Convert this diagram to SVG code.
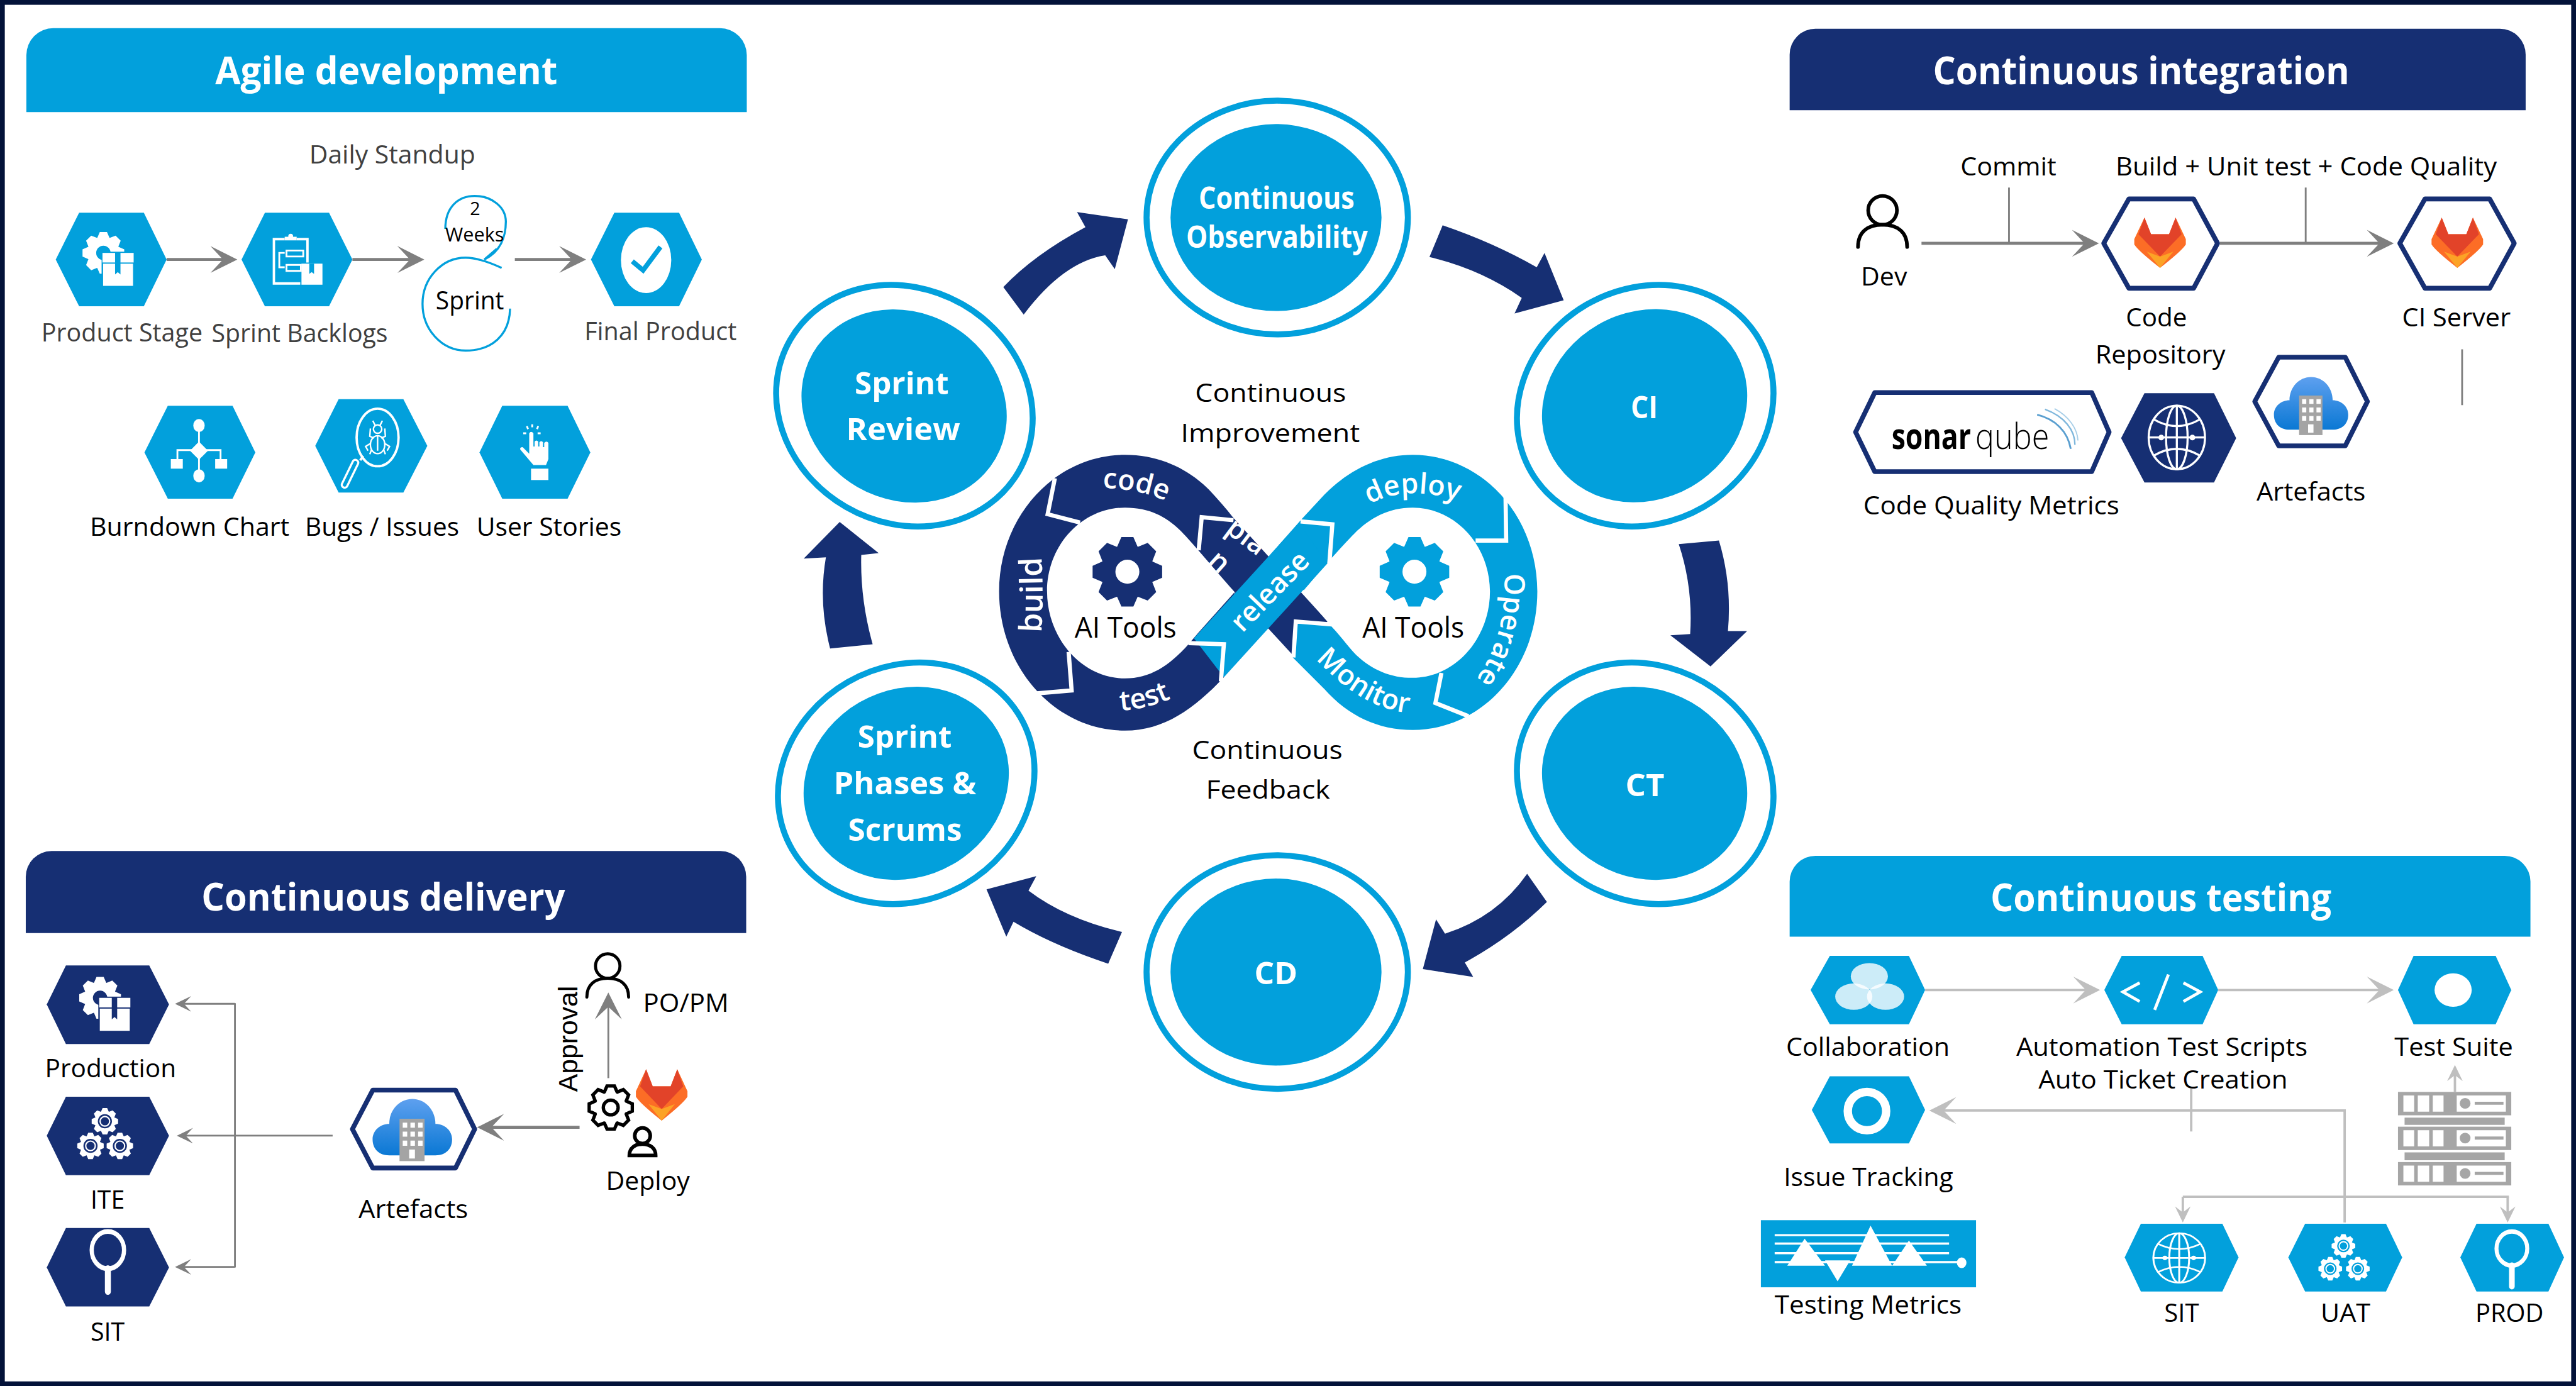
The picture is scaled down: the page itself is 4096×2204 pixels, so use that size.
<svg xmlns="http://www.w3.org/2000/svg" xmlns:xlink="http://www.w3.org/1999/xlink" width="4096" height="2204" viewBox="0 0 4096 2204">
<style>
text{font-family:"Open Sans","Noto Sans","Liberation Sans",sans-serif;font-size:43px;fill:#000}
.g{fill:#404040}
.h{font-size:63px;font-weight:700;fill:#fff}
.n{font-size:50px;font-weight:700;fill:#fff}
.inf{font-size:47px;font-weight:600;fill:#fff}
.ai{font-size:48px}
.b{fill:#02a0dc}.d{fill:#162f73}
.ho{fill:#fff;stroke:#162f73;stroke-width:8;stroke-linejoin:round}
.ring{fill:none;stroke:#02a0dc;stroke-width:10}
.w{fill:#fff}
.ws{fill:none;stroke:#fff;stroke-width:4}
.chev{fill:none;stroke:#fff;stroke-width:7}
.l1{fill:none;stroke:#7f7f7f;stroke-width:5}
.l2{fill:none;stroke:#7f7f7f;stroke-width:3}
.l3{fill:none;stroke:#bfbfbf;stroke-width:4}
.k{fill:none;stroke:#000;stroke-width:6;stroke-linecap:round}
</style>
<defs>
<linearGradient id="cg" x1="0" y1="0" x2="0" y2="1"><stop offset="0" stop-color="#5ea0ef"/><stop offset="1" stop-color="#0a78d4"/></linearGradient>
<marker id="ah" markerUnits="userSpaceOnUse" markerWidth="46" markerHeight="46" refX="25" refY="22.5" orient="auto"><path d="M0,0L45,22.5L0,45L21,22.5Z" fill="#7f7f7f"/></marker>
<marker id="am" markerUnits="userSpaceOnUse" markerWidth="30" markerHeight="30" refX="16" refY="13" orient="auto"><path d="M0,0L27,13L0,26L12,13Z" fill="#7f7f7f"/></marker>
<marker id="al" markerUnits="userSpaceOnUse" markerWidth="46" markerHeight="46" refX="25" refY="22.5" orient="auto"><path d="M0,0L45,22.5L0,45L21,22.5Z" fill="#bfbfbf"/></marker>
<marker id="as" markerUnits="userSpaceOnUse" markerWidth="30" markerHeight="30" refX="16" refY="13" orient="auto"><path d="M0,0L27,13L0,26L10,13Z" fill="#bfbfbf"/></marker>
<path id="gear" fill-rule="evenodd" d="M-10-58L10-58L17-42L17.7-41.7L33.9-48.1L48.1-33.9L41.7-17.7L42-17L58-10L58 10L42 17L41.7 17.7L48.1 33.9L33.9 48.1L17.7 41.7L17 42L10 58L-10 58L-17 42L-17.7 41.7L-33.9 48.1L-48.1 33.9L-41.7 17.7L-42 17L-58 10L-58-10L-42-17L-41.7-17.7L-48.1-33.9L-33.9-48.1L-17.7-41.7L-17-42ZM20 0A20 20 0 1 0-20 0A20 20 0 1 0 20 0Z"/>
<g id="gearr"><path fill="#fff" fill-rule="evenodd" d="M-10-58L10-58L17-42L17.7-41.7L33.9-48.1L48.1-33.9L41.7-17.7L42-17L58-10L58 10L42 17L41.7 17.7L48.1 33.9L33.9 48.1L17.7 41.7L17 42L10 58L-10 58L-17 42L-17.7 41.7L-33.9 48.1L-48.1 33.9L-41.7 17.7L-42 17L-58 10L-58-10L-42-17L-41.7-17.7L-48.1-33.9L-33.9-48.1L-17.7-41.7L-17-42ZM31 0A31 31 0 1 0-31 0A31 31 0 1 0 31 0Z"/><circle r="21" fill="none" stroke="#fff" stroke-width="6"/></g>
<g id="gearbox">
<use href="#gear" transform="translate(-13,-11) scale(.6)" fill="#fff"/>
<rect x="-16" y="-13" width="56" height="59" style="fill:currentColor"/>
<rect x="-14.5" y="-11" width="52" height="16" fill="#fff"/>
<rect x="-13.5" y="7" width="50" height="37" fill="#fff"/>
<path d="M6.5-12H15.5V25L11 21L6.5 25Z" style="fill:currentColor"/>
</g>
<g id="fox"><path d="M-26-42L-15-14H15L26-42L43-6V3Q36 14 0 42Q-36 14-43 3V-6Z" fill="#fc6d26"/><path d="M-26-42L-15-14H15L26-42L36-14L0 23L-36-14Z" fill="#e24329"/><path d="M0 23L22 15L0 42L-22 15Z" fill="#fca326"/></g>
<g id="cloud"><path d="M-36,40C-52,40-62,30-62,15C-62,1-50-9-36-9C-36-31-20-48 0-48C20-48 36-31 36-9C50-9 62 1 62 15C62 30 52 40 36 40Z" fill="url(#cg)"/><rect x="-20" y="-17" width="39" height="66" fill="#a4a4a4"/><path d="M-15-11h7v8h-7zM-3-11h7v8h-7zM9-11h7v8h-7zM-15 3h7v8h-7zM-3 3h7v8h-7zM9 3h7v8h-7zM-15 17h7v8h-7zM-3 17h7v8h-7zM9 17h7v8h-7zM-5 31h9v14h-9z" fill="#fff"/></g>
<g id="globe" fill="none" stroke="#fff" stroke-width="3.5"><ellipse rx="47" ry="53"/><ellipse rx="18" ry="53"/><path d="M0-53V53M-47 0H47M-38-30Q0-8 38-30M-38 30Q0 8 38 30"/><circle cx="-26" r="3" fill="#fff"/><circle cx="26" r="3" fill="#fff"/></g>
<g id="lens"><circle cy="-14" r="27" fill="none" stroke="#fff" stroke-width="7"/><path d="M0 13V46" stroke="#fff" stroke-width="10" stroke-linecap="round"/></g>
<g id="user" class="k"><circle r="24" fill="none"/><path d="M-41 61C-41 36-25 24 0 24C25 24 41 36 41 61" fill="none"/></g>
<g id="srv"><rect width="189" height="39" fill="#a6a6a6"/><path d="M9 6h18v27H9zM33 6h19v27H33zM58 6h18v27H58zM98 6h82v27H98z" fill="#fff"/><circle cx="112" cy="19" r="9" fill="#a6a6a6"/><path d="M128 19h48" stroke="#a6a6a6" stroke-width="5"/></g>
</defs>
<g transform="scale(.953)">
<rect x="4" y="4" width="4290" height="2305" fill="#fff" stroke="#031239" stroke-width="8"/>

<g id="panel-agile">
<path class="b" d="M44,187V92A45,45 0 0 1 89,47H1201A45,45 0 0 1 1246,92V187Z"/>
<text class="h" x="359" y="141" textLength="571" lengthAdjust="spacingAndGlyphs">Agile development</text>
<text class="g" x="516" y="273" textLength="277" lengthAdjust="spacingAndGlyphs">Daily Standup</text>
</g>
<g id="product-stage" color="#02a0dc">
<polygon class="b" points="93,433 132,355 240,355 278,433 240,511 132,511"/>
<use href="#gearbox" x="185.5" y="433"/>
<text class="g" x="69" y="570" textLength="269" lengthAdjust="spacingAndGlyphs">Product Stage</text>
</g>
<g id="sprint-backlogs">
<polygon class="b" points="403,433 442,355 549,355 588,433 549,511 442,511"/>
<path class="ws" d="M475,399H457V473H501M495,399H513V438"/>
<path class="w" d="M475,395h20v6h-20zM503,440h35v35h-35z"/><circle class="w" cx="485" cy="394" r="4"/>
<path class="b" d="M516,440h8v17l-4,-3l-4,3z"/>
<path class="ws" style="stroke-width:3" d="M478,418h28v10h-28zM478,442h24v10h-24zM475,422h-9v24h9"/>
<text class="g" x="353" y="571" textLength="294" lengthAdjust="spacingAndGlyphs">Sprint Backlogs</text>
</g>
<g id="sprint-loop">
<path fill="none" stroke="#02a0dc" stroke-width="3.5" d="M851,515C850,560 820,585 777,585C737,585 705,550 705,507C705,465 737,430 777,430C795,430 815,437 837,447"/>
<path fill="none" stroke="#02a0dc" stroke-width="3.5" d="M808,433C835,420 844,395 844,370C844,345 820,327 792,327C765,327 743,345 743,382M808,433L829,415"/>
<text x="727" y="516" textLength="114" lengthAdjust="spacingAndGlyphs">Sprint</text>
<text x="784" y="359" style="font-size:30px">2</text>
<text x="743" y="403" textLength="98" lengthAdjust="spacingAndGlyphs" style="font-size:32px">Weeks</text>
</g>
<g id="final-product">
<polygon class="b" points="986,433 1025,355 1133,355 1171,433 1133,511 1025,511"/>
<ellipse class="w" cx="1078" cy="434" rx="42" ry="55"/>
<path fill="none" stroke="#02a0dc" stroke-width="8" d="M1055,436L1073,451L1102,412"/>
<text class="g" x="975" y="568" textLength="254" lengthAdjust="spacingAndGlyphs">Final Product</text>
</g>
<g id="burndown-chart">
<polygon class="b" points="241,755 280,677 388,677 426,755 388,832 280,832"/>
<ellipse class="w" cx="332" cy="710" rx="9.5" ry="11"/><ellipse class="w" cx="332" cy="794" rx="9.5" ry="11"/>
<path class="w" d="M332,737L347,752L332,767L317,752Z"/>
<path class="ws" style="stroke-width:3" d="M332,710V794M296,767V751H368V767"/>
<rect class="w" x="285" y="766" width="20" height="16"/><rect class="w" x="359" y="766" width="20" height="16"/>
<text x="150" y="894" textLength="333" lengthAdjust="spacingAndGlyphs">Burndown Chart</text>
</g>
<g id="bugs-issues">
<polygon class="b" points="526,744 565,666 673,666 713,744 673,822 565,822"/>
<ellipse class="ws" cx="630" cy="730" rx="35" ry="48"/>
<path d="M593,772L575,809" stroke="#fff" stroke-width="13" stroke-linecap="round"/><path d="M593,772L575,809" stroke="#02a0dc" stroke-width="6" stroke-linecap="round"/>
<path class="ws" d="M601,768L606,761"/>
<path class="ws" style="stroke-width:2.5" d="M630,728V752M622,702L626,710M638,702L634,710M618,715L617,728L624,731M642,715L643,728L636,731M618,740L610,745L614,752M642,740L650,745L646,752M620,750L617,758M640,750L643,758"/>
<circle class="ws" style="stroke-width:2.5" cx="630" cy="716" r="7"/><ellipse class="ws" style="stroke-width:2.5" cx="630" cy="742" rx="12" ry="15"/>
<text x="509" y="894" textLength="257" lengthAdjust="spacingAndGlyphs">Bugs / Issues</text>
</g>
<g id="user-stories">
<polygon class="b" points="800,755 838,677 947,677 985,755 947,832 838,832"/>
<path class="w" d="M883,723Q886,718 890,723V745H892V737Q895,733 898,737V745H900V738Q903,734 906,738V746H908V739Q912,735 915,739V766L911,776H890L868,750Q867,746 872,746L883,757Z"/>
<rect class="w" x="886" y="782" width="29" height="19"/>
<path d="M873,723h5M879,711l2,5M888,708v5M898,711l-2,5M897,723h5" stroke="#fff" stroke-width="3"/>
<text x="795" y="894" textLength="242" lengthAdjust="spacingAndGlyphs">User Stories</text>
</g>

<g id="panel-ci">
<path class="d" d="M2986,184V91A43,43 0 0 1 3029,48H4171A43,43 0 0 1 4214,91V184Z"/>
<text class="h" x="3225" y="141" textLength="695" lengthAdjust="spacingAndGlyphs">Continuous integration</text>
<text x="3271" y="293" textLength="160" lengthAdjust="spacingAndGlyphs">Commit</text>
<text x="3530" y="293" textLength="636" lengthAdjust="spacingAndGlyphs">Build + Unit test + Code Quality</text>
</g>
<g id="dev"><use href="#user" x="3141" y="351"/><text x="3105" y="476" textLength="77" lengthAdjust="spacingAndGlyphs">Dev</text></g>
<g id="code-repository">
<polygon class="ho" points="3510,406 3552,332 3660,332 3700,406 3660,481 3552,481"/>
<use href="#fox" x="3604" y="405"/>
<text x="3547" y="545" textLength="102" lengthAdjust="spacingAndGlyphs">Code</text>
<text x="3496" y="607" textLength="217" lengthAdjust="spacingAndGlyphs">Repository</text>
</g>
<g id="ci-server">
<polygon class="ho" points="4004,406 4046,332 4154,332 4195,406 4154,481 4046,481"/>
<use href="#fox" x="4100" y="405"/>
<text x="4008" y="545" textLength="181" lengthAdjust="spacingAndGlyphs">CI Server</text>
</g>
<g id="sonarqube">
<polygon class="ho" points="3096,721 3128,655 3490,655 3519,721 3490,787 3128,787"/>
<text transform="translate(3156,749) scale(.78,1)" style="font-size:60px;font-weight:700">sonar</text>
<text transform="translate(3296,749) scale(.88,1)" style="font-size:60px;font-weight:300">qube</text>
<path d="M3399,692C3430,700 3450,720 3455,749" fill="none" stroke="#5a9fd0" stroke-width="3"/>
<path d="M3412,683C3445,695 3462,718 3462,742" fill="none" stroke="#7fb7dc" stroke-width="2.5"/>
<path d="M3428,682C3452,695 3466,715 3467,735" fill="none" stroke="#a9cfe8" stroke-width="2"/>
<text x="3109" y="858" textLength="427" lengthAdjust="spacingAndGlyphs">Code Quality Metrics</text>
</g>
<g id="ci-globe">
<polygon class="d" points="3539,731 3578,656 3694,656 3731,731 3694,805 3578,805"/>
<use href="#globe" x="3632" y="730"/>
</g>
<g id="ci-artefacts">
<polygon class="ho" points="3762,670 3802,596 3913,596 3950,670 3913,744 3802,744"/>
<use href="#cloud" x="3856" y="677"/>
<text x="3765" y="835" textLength="182" lengthAdjust="spacingAndGlyphs">Artefacts</text>
</g>

<g id="panel-cd">
<path class="d" d="M43,1557V1463A43,43 0 0 1 86,1420H1202A43,43 0 0 1 1245,1463V1557Z"/>
<text class="h" x="336" y="1519" textLength="607" lengthAdjust="spacingAndGlyphs">Continuous delivery</text>
</g>
<g id="production" color="#162f73">
<polygon class="d" points="78,1676 110,1611 249,1611 282,1676 249,1742 110,1742"/>
<use href="#gearbox" x="180" y="1676"/>
<text x="75" y="1798" textLength="219" lengthAdjust="spacingAndGlyphs">Production</text>
</g>
<g id="ite">
<polygon class="d" points="78,1895 110,1830 249,1830 282,1895 249,1961 110,1961"/>
<use href="#gearr" transform="translate(175,1871) scale(.38)"/>
<use href="#gearr" transform="translate(151,1912) scale(.38)"/>
<use href="#gearr" transform="translate(200,1912) scale(.38)"/>
<text x="151" y="2017" textLength="57" lengthAdjust="spacingAndGlyphs">ITE</text>
</g>
<g id="cd-sit">
<polygon class="d" points="78,2115 110,2049 249,2049 282,2115 249,2180 110,2180"/>
<use href="#lens" transform="translate(180,2102) scale(1,1.15)"/>
<text x="151" y="2237" textLength="57" lengthAdjust="spacingAndGlyphs">SIT</text>
</g>
<g id="cd-artefacts">
<polygon class="ho" points="588,1884 622,1819 760,1819 792,1884 760,1949 622,1949"/>
<use href="#cloud" transform="translate(688,1885) scale(1.07)"/>
<text x="598" y="2033" textLength="183" lengthAdjust="spacingAndGlyphs">Artefacts</text>
</g>
<g id="deploy">
<use href="#gear" transform="translate(1019,1848) scale(.62)" fill="none" stroke="#000" stroke-width="9"/>
<use href="#fox" transform="translate(1104,1827) scale(1,1.02)"/>
<circle cx="1072" cy="1895" r="13" fill="#fff" stroke="#000" stroke-width="6"/>
<path d="M1050,1928C1050,1915 1060,1909 1072,1909C1084,1909 1094,1915 1094,1928Z" fill="#fff" stroke="#000" stroke-width="6"/>
<text x="1011" y="1985" textLength="140" lengthAdjust="spacingAndGlyphs">Deploy</text>
</g>
<g id="po-pm">
<use href="#user" transform="translate(1014,1612) scale(.85)"/>
<text x="1073" y="1688" textLength="143" lengthAdjust="spacingAndGlyphs">PO/PM</text>
<text transform="translate(963,1822) rotate(-90)" style="font-family:'Liberation Sans',Arial,sans-serif;font-size:44px" textLength="177" lengthAdjust="spacingAndGlyphs">Approval</text>
</g>

<g id="panel-ct">
<path class="b" d="M2986,1563V1471A43,43 0 0 1 3029,1428H4179A43,43 0 0 1 4222,1471V1563Z"/>
<text class="h" x="3321" y="1520" textLength="569" lengthAdjust="spacingAndGlyphs">Continuous testing</text>
</g>
<g id="collaboration">
<polygon class="b" points="3021,1652 3053,1595 3185,1595 3212,1652 3185,1709 3053,1709"/>
<ellipse cx="3119" cy="1629" rx="31" ry="22" fill="#fff" fill-opacity=".8"/><ellipse cx="3093" cy="1663" rx="31" ry="22" fill="#fff" fill-opacity=".8"/><ellipse cx="3146" cy="1663" rx="31" ry="22" fill="#fff" fill-opacity=".8"/>
<text x="2980" y="1762" textLength="273" lengthAdjust="spacingAndGlyphs">Collaboration</text>
</g>
<g id="automation">
<polygon class="b" points="3511,1652 3540,1595 3675,1595 3701,1652 3675,1709 3540,1709"/>
<path class="ws" style="stroke-width:5" d="M3570,1640L3542,1655L3570,1671M3618,1626L3595,1685M3643,1640L3671,1655L3643,1671"/>
<text x="3364" y="1762" textLength="486" lengthAdjust="spacingAndGlyphs">Automation Test Scripts</text>
<text x="3401" y="1816" textLength="416" lengthAdjust="spacingAndGlyphs">Auto Ticket Creation</text>
</g>
<g id="test-suite">
<polygon class="b" points="4001,1652 4027,1595 4164,1595 4190,1652 4164,1709 4027,1709"/>
<ellipse class="w" cx="4093" cy="1652" rx="31" ry="28"/>
<text x="3995" y="1762" textLength="198" lengthAdjust="spacingAndGlyphs">Test Suite</text>
</g>
<g id="issue-tracking">
<polygon class="b" points="3023,1852 3053,1796 3185,1796 3212,1852 3185,1908 3053,1908"/>
<circle class="ws" style="stroke-width:14" cx="3115" cy="1854" r="32"/>
<text x="2976" y="1979" textLength="283" lengthAdjust="spacingAndGlyphs">Issue Tracking</text>
</g>
<g id="testing-metrics">
<rect class="b" x="2938" y="2036" width="359" height="112"/>
<path d="M2961,2061H3252M2961,2075H3252M2961,2091H3252M2961,2106H3273" stroke="#fff" stroke-width="3.5"/>
<path class="w" d="M2982,2112L3011,2067L3045,2112ZM3090,2112L3121,2045L3157,2112ZM3157,2112L3185,2070L3215,2112ZM3045,2103H3087L3066,2138Z"/>
<ellipse class="w" cx="3273" cy="2107" rx="8" ry="9"/>
<text x="2961" y="2192" textLength="312" lengthAdjust="spacingAndGlyphs">Testing Metrics</text>
</g>
<g id="server"><use href="#srv" x="4001" y="1822"/><use href="#srv" x="4001" y="1880"/><use href="#srv" x="4001" y="1939"/><path d="M4012,1865h167v12h-167zM4012,1923h167v13h-167z" fill="#a6a6a6"/></g>
<g id="ct-sit">
<polygon class="b" points="3545,2098 3572,2042 3708,2042 3735,2098 3708,2155 3572,2155"/>
<use href="#globe" transform="translate(3636,2099) scale(.92,.78)"/>
<text x="3611" y="2206" textLength="58" lengthAdjust="spacingAndGlyphs">SIT</text>
</g>
<g id="uat">
<polygon class="b" points="3818,2098 3846,2042 3981,2042 4008,2098 3981,2155 3846,2155"/>
<use href="#gearr" transform="translate(3910,2079) scale(.34)"/>
<use href="#gearr" transform="translate(3888,2117) scale(.34)"/>
<use href="#gearr" transform="translate(3934,2117) scale(.34)"/>
<text x="3872" y="2206" textLength="83" lengthAdjust="spacingAndGlyphs">UAT</text>
</g>
<g id="prod">
<polygon class="b" points="4105,2098 4132,2042 4252,2042 4278,2098 4252,2155 4132,2155"/>
<use href="#lens" transform="translate(4191,2098) scale(.95,1.05)"/>
<text x="4130" y="2206" textLength="114" lengthAdjust="spacingAndGlyphs">PROD</text>
</g>

<g id="obs">
<ellipse class="ring" cx="2131" cy="363" rx="218" ry="195"/><ellipse class="b" cx="2129" cy="363" rx="176" ry="156"/>
<text class="n" x="2000" y="348" textLength="260" lengthAdjust="spacingAndGlyphs">Continuous</text>
<text class="n" x="1979" y="413" textLength="303" lengthAdjust="spacingAndGlyphs">Observability</text>
</g>
<g id="ci">
<ellipse class="ring" cx="2745" cy="677" rx="220" ry="195" transform="rotate(-30 2745 677)"/><ellipse class="b" cx="2744" cy="677" rx="176" ry="156" transform="rotate(-30 2744 677)"/>
<text class="n" x="2721" y="698" textLength="45" lengthAdjust="spacingAndGlyphs">CI</text>
</g>
<g id="ct">
<ellipse class="ring" cx="2745" cy="1307" rx="220" ry="195" transform="rotate(30 2745 1307)"/><ellipse class="b" cx="2744" cy="1307" rx="176" ry="156" transform="rotate(30 2744 1307)"/>
<text class="n" x="2712" y="1328" textLength="65" lengthAdjust="spacingAndGlyphs">CT</text>
</g>
<g id="cd">
<ellipse class="ring" cx="2131" cy="1622" rx="218" ry="195"/><ellipse class="b" cx="2129" cy="1622" rx="176" ry="156"/>
<text class="n" x="2093" y="1642" textLength="72" lengthAdjust="spacingAndGlyphs">CD</text>
</g>
<g id="sprint-phases">
<ellipse class="ring" cx="1512" cy="1307" rx="220" ry="195" transform="rotate(-30 1512 1307)"/><ellipse class="b" cx="1512" cy="1307" rx="176" ry="156" transform="rotate(-30 1512 1307)"/>
<text class="n" x="1431" y="1248" textLength="157" lengthAdjust="spacingAndGlyphs">Sprint</text>
<text class="n" x="1391" y="1325" textLength="238" lengthAdjust="spacingAndGlyphs">Phases &amp;</text>
<text class="n" x="1415" y="1403" textLength="190" lengthAdjust="spacingAndGlyphs">Scrums</text>
</g>
<g id="sprint-review">
<ellipse class="ring" cx="1509" cy="677" rx="220" ry="195" transform="rotate(30 1509 677)"/><ellipse class="b" cx="1508.5" cy="677.5" rx="176" ry="156" transform="rotate(30 1508.5 677.5)"/>
<text class="n" x="1426" y="658" textLength="157" lengthAdjust="spacingAndGlyphs">Sprint</text>
<text class="n" x="1412" y="735" textLength="190" lengthAdjust="spacingAndGlyphs">Review</text>
</g>

<g id="center-labels">
<text x="1994" y="670" textLength="252" lengthAdjust="spacingAndGlyphs">Continuous</text>
<text x="1970" y="738" textLength="299" lengthAdjust="spacingAndGlyphs">Improvement</text>
<text x="1989" y="1267" textLength="251" lengthAdjust="spacingAndGlyphs">Continuous</text>
<text x="2012" y="1333" textLength="207" lengthAdjust="spacingAndGlyphs">Feedback</text>
</g>

<g id="infinity">
<path class="d" d="M2042,1130C1992,1183 1942,1219 1877,1219C1761,1219 1667,1115 1667,987C1667,861 1761,759 1877,759C1938,759 1985,785 2017,817C2032,833 2045,848 2057,863L2215,1037L2157,1093L2060,988Z"/>
<path class="b" d="M2157,1097L2210,1150C2250,1195 2300,1218 2357,1218C2473,1218 2565,1115 2565,987C2565,861 2473,759 2357,759C2300,759 2250,785 2210,825L2173,865L2120,925L2180,990L2223,1042L2162,1037Z"/>
<path class="w" d="M1747,987C1747,910 1805,847 1877,847C1918,847 1945,862 1967,883C1985,900 2020,943 2060,988L2000,1055L1983,1075C1950,1112 1918,1132 1877,1132C1805,1132 1747,1065 1747,987Z"/>
<path class="w" d="M2486,987C2486,910 2428,847 2357,847C2316,847 2285,865 2260,890C2240,910 2200,955 2173,988L2223,1047C2240,1065 2250,1080 2263,1093C2290,1118 2320,1131 2357,1131C2428,1131 2486,1065 2486,987Z"/>
<path class="b" d="M1992,1065L2167,873L2215,940L2042,1130Z"/>
<path class="chev" d="M1760,798L1748,858L1802,872"/>
<path class="chev" d="M1783,1088L1788,1152L1730,1157"/>
<path class="chev" d="M2000,918L2005,863L2058,868"/>
<path class="chev" d="M1983,1073L2042,1075L2037,1137"/>
<path class="chev" d="M2170,870L2223,875L2218,940"/>
<path class="chev" d="M2512,830L2513,902L2462,902"/>
<path class="chev" d="M2405,1123L2395,1173L2450,1195"/>
<path class="chev" d="M2222,1042L2162,1037L2158,1097"/>
<path id="pc" fill="none" d="M1835,815Q1893,813 1950,838"/>
<path id="pb" fill="none" d="M1737,1065Q1742,990 1737,920"/>
<path id="pt" fill="none" d="M1868,1186Q1915,1183 1955,1165"/>
<path id="pd" fill="none" d="M2278,845Q2345,805 2440,838"/>
<path id="po" fill="none" d="M2510,955Q2515,1060 2462,1135"/>
<path id="pm" fill="none" d="M2195,1100C2240,1145 2280,1180 2350,1190"/>
<text class="inf" text-anchor="middle"><textPath href="#pc" startOffset="50%">code</textPath></text>
<text class="inf" text-anchor="middle" style="font-size:52px"><textPath href="#pb" startOffset="50%">build</textPath></text>
<text class="inf" text-anchor="middle"><textPath href="#pt" startOffset="50%">test</textPath></text>
<text class="inf" text-anchor="middle"><textPath href="#pd" startOffset="50%">deploy</textPath></text>
<text class="inf" text-anchor="middle"><textPath href="#po" startOffset="50%">Operate</textPath></text>
<text class="inf" text-anchor="middle"><textPath href="#pm" startOffset="50%">Monitor</textPath></text>
<text class="inf" transform="translate(2043,887) rotate(37)">pla</text>
<text class="inf" transform="translate(2013,939) rotate(42)">n</text>
<text class="inf" transform="translate(2073,1057) rotate(-46)">release</text>
<use href="#gear" x="1881" y="954" class="d"/>
<use href="#gear" x="2360" y="954" class="b"/>
<text class="ai" x="1793" y="1064" textLength="170" lengthAdjust="spacingAndGlyphs">AI Tools</text>
<text class="ai" x="2273" y="1064" textLength="170" lengthAdjust="spacingAndGlyphs">AI Tools</text>
</g>

<g id="connectors">
<path class="l1" marker-end="url(#ah)" d="M278,433H376"/>
<path class="l1" marker-end="url(#ah)" d="M588,433H688"/>
<path class="l1" marker-end="url(#ah)" d="M859,433H958"/>
<path class="l1" marker-end="url(#ah)" d="M3206,406H3482"/>
<path class="l1" marker-end="url(#ah)" d="M3704,406H3974"/>
<path class="l2" d="M3352,313V406M3847,313V406M4108,583V676"/>
<path class="l2" d="M392,1674V2115"/>
<path class="l2" marker-end="url(#am)" d="M392,1675H303"/>
<path class="l2" marker-end="url(#am)" d="M555,1895H306"/>
<path class="l2" marker-end="url(#am)" d="M392,2114H303"/>
<path class="l1" marker-end="url(#ah)" d="M967,1881H816"/>
<path class="l2" marker-end="url(#ah)" d="M1015,1799V1676"/>
<path class="l3" marker-end="url(#al)" d="M3212,1652H3484"/>
<path class="l3" marker-end="url(#al)" d="M3701,1652H3974"/>
<path class="l3" marker-end="url(#al)" d="M3912,2040V1853H3239"/>
<path class="l3" d="M3656,1816V1888"/>
<path class="l3" d="M4186,1997H3642"/>
<path class="l3" marker-end="url(#as)" d="M3642,1997V2029"/>
<path class="l3" marker-end="url(#as)" d="M4184,1997V2029"/>
<path class="l3" marker-end="url(#as)" d="M4096,1822V1788"/>
<path class="d" d="M1674,479Q1725,425 1811,379L1797,354L1882,366L1860,449L1844,426Q1774,437 1708,525Z"/>
<path class="d" d="M2407,376Q2492,405 2564,446L2577,422L2609,501L2527,523L2539,497Q2470,449 2385,429Z"/>
<path class="d" d="M2801,908Q2825,980 2820,1058L2787,1060L2854,1112L2915,1053L2883,1053Q2890,975 2868,902Z"/>
<path class="d" d="M2548,1458Q2498,1530 2411,1558L2396,1534L2374,1617L2458,1630L2444,1606Q2521,1564 2581,1505Z"/>
<path class="d" d="M1872,1555Q1778,1533 1716,1486L1729,1462L1646,1484L1679,1563L1691,1538Q1756,1577 1849,1608Z"/>
<path class="d" d="M1385,1082Q1365,1005 1378,930L1341,932L1401,871L1466,923L1437,926Q1435,1000 1456,1075Z"/>
</g>
</g>
</svg>
